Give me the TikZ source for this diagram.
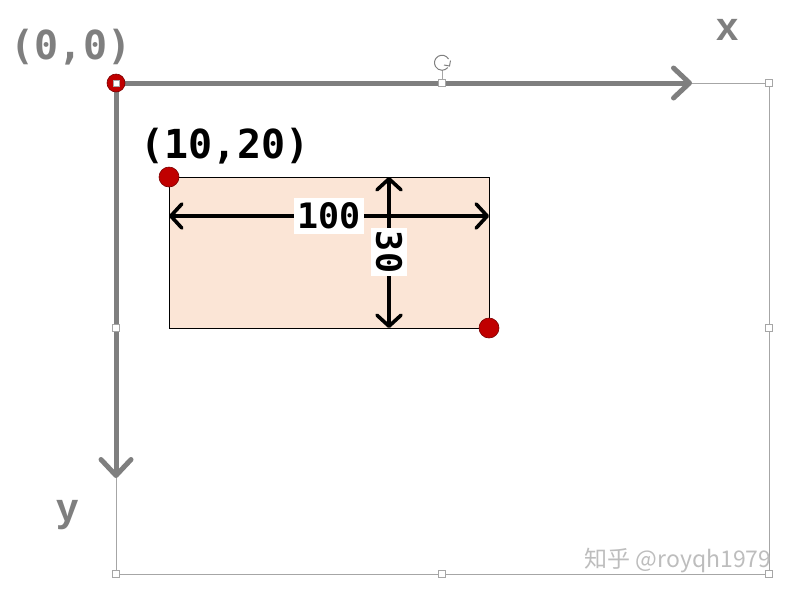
\documentclass[tikz,border=0pt]{standalone}
\usepackage{fontspec}
\newfontfamily\monofont{DejaVu Sans Mono}
\newfontfamily\axisfont{Liberation Sans}
\newfontfamily\cjk{Noto Sans CJK SC}
\usetikzlibrary{arrows.meta}
\definecolor{axisgray}{HTML}{7F7F7F}
\definecolor{peach}{HTML}{FBE5D6}
\definecolor{dotred}{HTML}{C00000}
\definecolor{dotedge}{HTML}{7A0000}
\definecolor{framegray}{HTML}{A6A6A6}
\definecolor{markgray}{HTML}{BDBDBD}
\tikzset{
  axisline/.style={draw=axisgray, line width=5pt,
    -{Straight Barb[length=16pt,width=30pt,round]}},
  dimline/.style={draw=black, line width=3.6pt,
    {Straight Barb[length=11pt,width=24pt,round]}-{Straight Barb[length=11pt,width=24pt,round]}},
  reddot/.style={circle, fill=dotred, draw=dotedge, line width=0.6pt, inner sep=0pt},
  handle/.style={rectangle, fill=white, draw=framegray, line width=0.7pt,
    minimum size=7.5pt, inner sep=0pt},
  frameline/.style={draw=framegray, line width=1pt},
  coordtext/.style={font=\monofont\bfseries\fontsize{40}{44}\selectfont, inner sep=0pt},
  dimlabel/.style={font=\monofont\bfseries\fontsize{35}{38}\selectfont, fill=white,
    inner xsep=3pt, inner ysep=5pt},
  axislabel/.style={font=\axisfont\bfseries\fontsize{40}{44}\selectfont, text=axisgray, inner sep=0pt},
}
\begin{document}
\begin{tikzpicture}[x=1pt,y=-1pt]
\useasboundingbox (0,0) rectangle (794,598);
% selection frame
\coordinate (fTL) at (116,83);
\coordinate (fTR) at (769,83);
\coordinate (fBR) at (769,574);
\coordinate (fBL) at (116,574);
\draw[frameline] (fTL) -- (fTR) -- (fBR) -- (fBL) -- cycle;
% rotation handle
\coordinate (rotbase) at (442,83);
\coordinate (rottop) at (442,70);
\draw[frameline] (rotbase) -- (rottop);
\draw[draw=axisgray, line width=1pt] (448.5,59) arc[start angle=30, end angle=320, radius=7.5pt];
\draw[draw=axisgray, line width=1pt] (444,65) -- (449.5,66) -- (450.5,60.5);
% rectangle
\node[draw=black, line width=0.8pt, fill=peach, minimum width=320pt, minimum height=151pt,
  inner sep=0pt, anchor=north west] (box) at (169,177) {};
% axes
\coordinate (O) at (116,83);
\coordinate (xend) at (692,83);
\coordinate (yend) at (116,478);
\draw[axisline] (O) -- (xend);
\draw[axisline] (O) -- (yend);
% handles
\foreach \n/\p in {h1/{(442,83)},h2/{(769,83)},h3/{(769,328)},h4/{(769,574)},h5/{(442,574)},h6/{(116,574)},h7/{(116,328)}}
  \node[handle] (\n) at \p {};
% origin dot
\node[reddot, minimum size=18pt] (odot) at (O) {};
\node[handle, minimum size=6pt] (h0) at (O) {};
% dimension arrows
\coordinate (hl) at (169,216);
\coordinate (hr) at (489,216);
\coordinate (vt) at (389,177);
\coordinate (vb) at (389,328);
\draw[dimline] (hl) -- (hr);
\draw[dimline] (vt) -- (vb);
\node[dimlabel] (w) at (329,216) {100};
\node[dimlabel, rotate=-90] (hgt) at (389,252) {30};
% corner dots
\node[reddot, minimum size=20pt] (d1) at (169,177) {};
\node[reddot, minimum size=20pt] (d2) at (489,328) {};
% texts
\node[coordtext, text=axisgray] (t00) at (71,47) {(0,0)};
\node[coordtext, text=black] (t1020) at (225,146) {(10,20)};
\node[axislabel] (xl) at (728,30) {x};
\node[axislabel] (yl) at (68,515) {y};
\node[font=\cjk\fontsize{23}{26}\selectfont, text=markgray, inner sep=0pt] (wm) at (678,561) {知乎 @royqh1979};
\end{tikzpicture}
\end{document}
